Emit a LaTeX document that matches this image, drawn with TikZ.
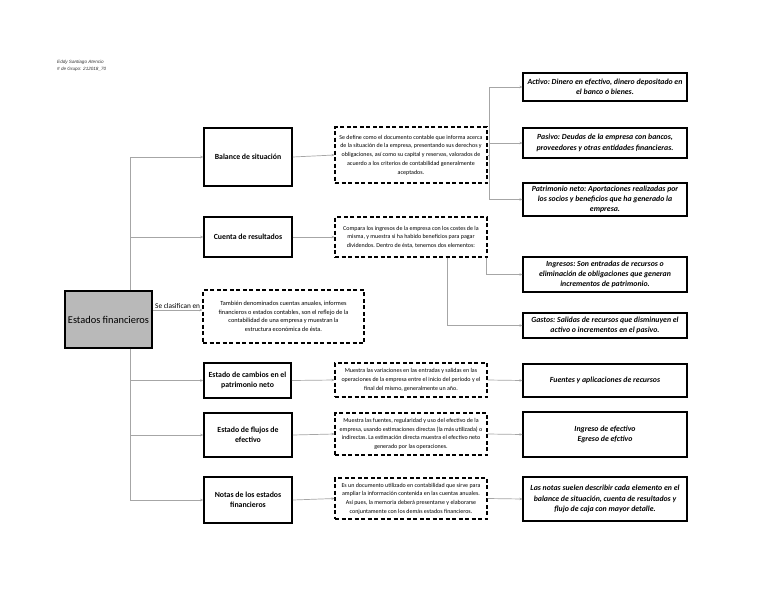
\documentclass[tikz,border=0pt]{standalone}
\usepackage{fontspec}
\setmainfont{Carlito}
\newfontfamily\hdrfont{Liberation Sans}
\usetikzlibrary{calc,arrows.meta}
\newcommand\nohyph{\hyphenpenalty=10000\relax\exhyphenpenalty=10000\relax\frenchspacing}
\begin{document}
\begin{tikzpicture}[x=1pt,y=-1pt,
  solidbox/.style={draw=black,line width=1.6pt,align=center,inner sep=1pt,font=\fontsize{7.8}{10}\selectfont\bfseries\nohyph},
  dashbox/.style={draw=black,line width=1.1pt,dash pattern=on 4pt off 2.5pt,align=center,inner sep=0pt,minimum width=152pt,font=\fontsize{6.0}{8.7}\selectfont\nohyph},
  rightbox/.style={draw=black,line width=1.1pt,align=center,inner sep=0pt,font=\fontsize{7.8}{10.3}\selectfont\bfseries\itshape\nohyph,minimum width=164pt},
  conn/.style={draw=gray!70,line width=0.7pt,-{Stealth[length=3pt,width=2.5pt]}},
  plain/.style={draw=gray!70,line width=0.7pt}]
\fill[white] (0,0) rectangle (768,594);
\useasboundingbox (0,0) rectangle (768,594);
% header
\node[anchor=west,inner sep=0,text=black!80,font=\hdrfont\itshape\fontsize{4.6}{5.5}\selectfont] (h1) at (57,62) {Eddy Santiago Atencio};
\node[anchor=west,inner sep=0,text=black!80,font=\hdrfont\itshape\fontsize{4.6}{5.5}\selectfont] (h2) at (57,69) {\# de Grupo: 212018\_70};
% main
\node[draw=black,line width=1.6pt,fill=gray!55,minimum width=87pt,minimum height=57pt,inner sep=0,font=\fontsize{10.4}{12}\selectfont] (main) at (108.5,319.5) {Estados financieros};
% left column
\node[solidbox,minimum width=88pt,minimum height=58pt] (bal) at (248,157) {Balance de situación};
\node[solidbox,minimum width=88pt,minimum height=40pt] (cue) at (248,237) {Cuenta de resultados};
\node[dashbox,minimum width=161pt,minimum height=53pt,font=\fontsize{6.3}{8.5}\selectfont\nohyph] (tam) at (283.5,316.5) {También denominados cuentas anuales, informes\\ financieros o estados contables, son el reflejo de la\\ contabilidad de una empresa y muestran la\\ estructura económica de ésta.};
\node[solidbox,minimum width=87pt,minimum height=35pt] (cam) at (247.5,380.5) {Estado de cambios en el\\ patrimonio neto};
\node[solidbox,minimum width=88pt,minimum height=44pt] (flu) at (248,435) {Estado de flujos de\\ efectivo};
\node[solidbox,minimum width=88pt,minimum height=46pt] (not) at (248,500) {Notas de los estados\\ financieros};
% middle dashed
\node[dashbox,minimum height=56pt] (d1) at (411,155) {Se define como el documento contable que informa acerca\\ de la situación de la empresa, presentando sus derechos y\\ obligaciones, así como su capital y reservas, valorados de\\ acuerdo a los criterios de contabilidad generalmente\\ aceptados.};
\node[dashbox,minimum height=40pt] (d2) at (411,237) {Compara los ingresos de la empresa con los costes de la\\ misma, y muestra si ha habido beneficios para pagar\\ dividendos. Dentro de ésta, tenemos dos elementos:};
\node[dashbox,minimum height=34pt] (d3) at (411,380) {Muestra las variaciones en las entradas y salidas en las\\ operaciones de la empresa entre el inicio del periodo y el\\ final del mismo, generalmente un año.};
\node[dashbox,minimum height=42pt] (d4) at (411,434) {Muestra las fuentes, regularidad y uso del efectivo de la\\ empresa, usando estimaciones directas (la más utilizada) o\\ indirectas. La estimación directa muestra el efectivo neto\\ generado por las operaciones.};
\node[dashbox,minimum height=41pt] (d5) at (411,498.5) {Es un documento utilizado en contabilidad que sirve para\\ ampliar la información contenida en las cuentas anuales.\\ Así pues, la memoria deberá presentarse y elaborarse\\ conjuntamente con los demás estados financieros.};
% right column
\node[rightbox,minimum height=28pt] (act) at (605,87) {Activo: Dinero en efectivo, dinero depositado en\\ el banco o bienes.};
\node[rightbox,minimum height=30pt] (pas) at (605,143) {Pasivo: Deudas de la empresa con bancos,\\ proveedores y otras entidades financieras.};
\node[rightbox,minimum height=33pt] (pat) at (605,199.5) {Patrimonio neto: Aportaciones realizadas por\\ los socios y beneficios que ha generado la\\ empresa.};
\node[rightbox,minimum height=35pt] (ing) at (605,274.5) {Ingresos: Son entradas de recursos o\\ eliminación de obligaciones que generan\\ incrementos de patrimonio.};
\node[rightbox,minimum height=25pt] (gas) at (605,325.5) {Gastos: Salidas de recursos que disminuyen el\\ activo o incrementos en el pasivo.};
\node[rightbox,minimum height=33pt] (fue) at (605,380.5) {Fuentes y aplicaciones de recursos};
\node[rightbox,minimum height=45pt] (efe) at (605,434.5) {Ingreso de efectivo\\ Egreso de efctivo};
\node[rightbox,minimum height=44pt] (las) at (605,499) {Las notas suelen describir cada elemento en el\\ balance de situación, cuenta de resultados y\\ flujo de caja con mayor detalle.};
% trunk
\coordinate (tn) at ($(main.north west)!0.75!(main.north east)$);
\coordinate (ts) at ($(main.south west)!0.75!(main.south east)$);
\draw[conn] (tn) |- (bal.west);
\draw[conn] (tn) |- (cue.west);
\draw[conn] (ts) |- (cam.west);
\draw[conn] (ts) |- (flu.west);
\draw[conn] (ts) |- (not.west);
\coordinate (sa) at (main.east |- 0,310);
\coordinate (sb) at (tam.west |- 0,310);
\draw[conn] (sa) -- node[above=0pt,inner sep=1pt,font=\fontsize{7.3}{8}\selectfont] (sc) {Se clasifican en} (sb);
% left to middle
\draw[conn] (bal.east) -- (d1.west);
\draw[conn] (cue.east) -- (d2.west);
\draw[conn] (cam.east) -- (d3.west);
\draw[conn] (flu.east) -- (d4.west);
\draw[conn] (not.east) -- (d5.west);
% middle to right
\coordinate (r1) at ($(d1.east)+(2,0)$);
\draw[plain] (d1.east) -- (r1);
\draw[conn] (r1) |- (act.west);
\draw[conn] (r1) |- (pas.west);
\draw[conn] (r1) |- (pat.west);
\coordinate (r2) at ($(d2.south east)+(-1,0)$);
\coordinate (r3) at ($(d2.south west)!0.74!(d2.south east)$);
\draw[conn] (r2) |- (ing.west);
\draw[conn] (r3) |- (gas.west);
\draw[conn] (d3.east) -- (fue.west);
\draw[conn] (d4.east) -- (efe.west);
\draw[conn] (d5.east) -- (las.west);
\end{tikzpicture}
\end{document}
